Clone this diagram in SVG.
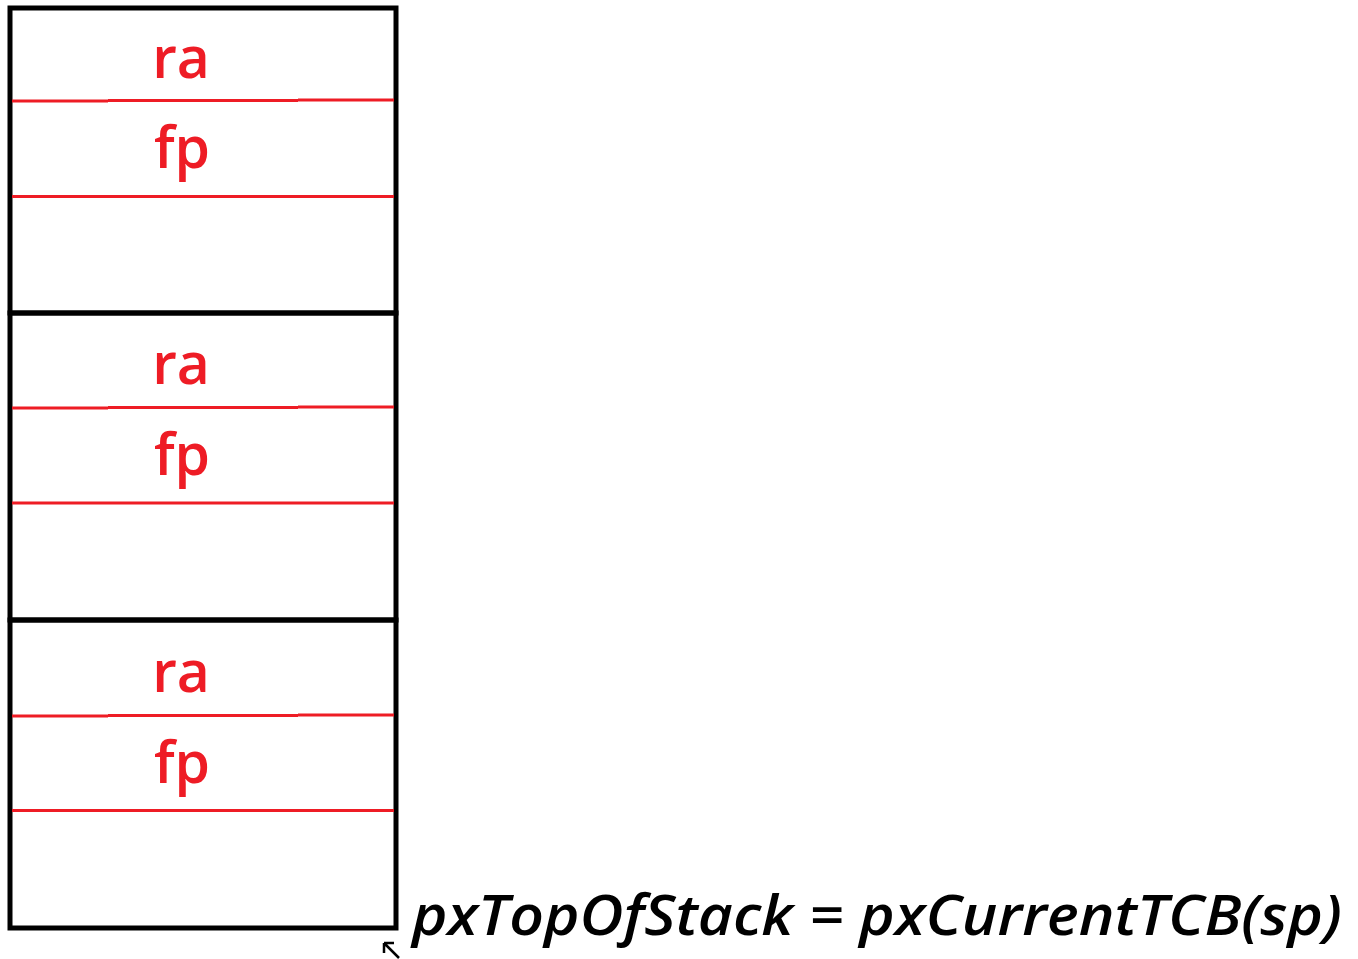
<svg xmlns="http://www.w3.org/2000/svg" width="1358" height="959" viewBox="0 0 1358 959">
<style>
.frame{fill:none;stroke:#000;stroke-width:5}
.sep{stroke:#ee1c25;stroke-width:3;fill:none}
.lbl{font-family:"Open Sans","Noto Sans",sans-serif;font-size:57px;font-weight:600;fill:#ee1c25;text-anchor:middle}
.eq{font-family:"Open Sans","Noto Sans",sans-serif;font-size:56px;font-weight:600;font-style:italic;fill:#000}
</style>
<rect width="1358" height="959" fill="#fff"/>
<g id="frame1">
<rect class="frame" x="10" y="8" width="386" height="305"/>
<path class="sep" d="M12,101 H108 M108,100.5 H298 M298,100 H394"/>
<path class="sep" d="M12,196.5 H394"/>
<text class="lbl" x="181" y="78">ra</text>
<text class="lbl" x="182" y="168">fp</text>
</g>
<g id="frame2">
<rect class="frame" x="10" y="313" width="386" height="307"/>
<path class="sep" d="M12,408 H108 M108,407.5 H298 M298,407 H394"/>
<path class="sep" d="M12,503 H394"/>
<text class="lbl" x="181" y="384">ra</text>
<text class="lbl" x="182" y="475">fp</text>
</g>
<g id="frame3">
<rect class="frame" x="10" y="620" width="386" height="308"/>
<path class="sep" d="M12,716 H108 M108,715.5 H298 M298,715 H394"/>
<path class="sep" d="M12,810.5 H394"/>
<text class="lbl" x="181" y="692">ra</text>
<text class="lbl" x="182" y="783">fp</text>
</g>
<g id="connectors">
<path d="M399,958 L384,943 M384,943 H394 M384,943 V953" fill="none" stroke="#000" stroke-width="2.5"/>
</g>
<g id="label">
<text class="eq" x="412" y="935" textLength="930" lengthAdjust="spacingAndGlyphs">pxTopOfStack = pxCurrentTCB(sp)</text>
</g>
</svg>
